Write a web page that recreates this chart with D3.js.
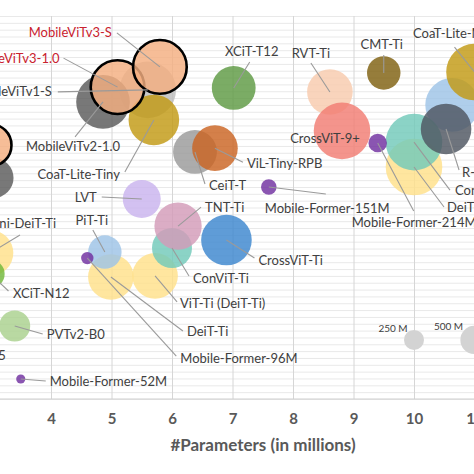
<!DOCTYPE html>
<html>
<head>
<meta charset="utf-8">
<script src="https://cdn.jsdelivr.net/npm/d3@7"></script>
<style>
  body { margin: 0; background: #fff; }
  svg { display: block; font-family: Lato, "Noto Sans", sans-serif; }
</style>
</head>
<body>
<div id="chart"></div>
<script>
// data (params in millions, top-1 on a hidden y axis, FLOPs in M)
var models = ["MobileViTv1-S", "MobileViTv2-0.5", "MobileViTv2-0.75", "MobileViTv2-1.0",
  "Mini-DeiT-Ti", "DeiT-Ti", "ViT-Ti (DeiT-Ti)", "DeiT-Ti+", "PiT-Ti", "PiT-XS",
  "ConViT-Ti", "ConViT-Ti+", "TNT-Ti", "LVT", "CrossViT-Ti", "CeiT-T", "ViL-Tiny-RPB",
  "XCiT-N12", "XCiT-T12", "RVT-Ti", "CrossViT-9+", "CMT-Ti", "PVTv2-B0", "R-Lite",
  "CoaT-Lite-Tiny", "CoaT-Lite-Mini", "Mobile-Former-52M", "Mobile-Former-96M",
  "Mobile-Former-151M", "Mobile-Former-214M",
  "MobileViTv3-0.75", "MobileViTv3-1.0", "MobileViTv3-S"];
var params = [5.6, 1.4, 3.05, 4.86,
  3.0, 4.99, 5.72, 10.0, 4.89, 10.63,
  6.0, 10.0, 6.1, 5.5, 6.9, 6.38, 6.71,
  3.0, 7.02, 8.61, 8.81, 9.5, 3.4, 10.53,
  5.7, 11.0, 3.5, 4.6,
  7.6, 9.4,
  3.0, 5.1, 5.8];
var top1 = [77.3, 67.6, 74.08, 76.86,
  71.34, 70.46, 70.5, 74.48, 71.37, 76.75,
  71.52, 75.39, 72.32, 73.31, 71.81, 75.03, 75.17,
  70.57, 77.37, 77.22, 75.8, 77.92, 68.67, 75.87,
  76.2, 77.95, 66.73, 71.15,
  73.75, 75.36,
  75.28, 77.4, 78.14];
var flops = [2000, 500, 1000, 1800,
  1300, 1300, 1300, 2000, 700, 1800,
  1000, 2000, 1400, 900, 1600, 1200, 1300,
  500, 1200, 1300, 2000, 700, 600, 1600,
  1600, 2000, 52, 96,
  151, 214,
  1100, 1800, 1800];

var xTicks = [4, 5, 6, 7, 8, 9, 10, 11];
var legendSizes = [250, 500];
var legendLabels = ["250 M", "500 M"];

var colors = {
  "Mini-DeiT-Ti": "#FFE08A", "DeiT-Ti": "#FFE08A", "ViT-Ti (DeiT-Ti)": "#FFE08A", "DeiT-Ti+": "#FFE08A",
  "PiT-Ti": "#9DC3E6", "PiT-XS": "#9DC3E6", "ConViT-Ti": "#72C9B9", "ConViT-Ti+": "#72C9B9",
  "TNT-Ti": "#D39BB8", "LVT": "#C9B3EE", "CrossViT-Ti": "#3C86CE", "CeiT-T": "#9A9A9A",
  "ViL-Tiny-RPB": "#CB6422", "XCiT-N12": "#72B83A", "XCiT-T12": "#5E9A43", "RVT-Ti": "#F8CBAD",
  "CrossViT-9+": "#F17C73", "CMT-Ti": "#7F6010", "PVTv2-B0": "#A9D18E", "R-Lite": "#4E5660",
  "CoaT-Lite-Tiny": "#C29A14", "CoaT-Lite-Mini": "#C29A14", "Mobile-Former-52M": "#7030A0",
  "Mobile-Former-96M": "#7030A0", "Mobile-Former-151M": "#7030A0", "Mobile-Former-214M": "#7030A0",
  "MobileViTv2-0.5": "#5A5A5A", "MobileViTv2-0.75": "#5A5A5A", "MobileViTv1-S": "#BDBDBD",
  "MobileViTv2-1.0": "#5A5A5A", "MobileViTv3-0.75": "#F4AE80", "MobileViTv3-1.0": "#F4AE80",
  "MobileViTv3-S": "#F4AE80"
};

// label placement: [dx, dy, anchor, leader dx, leader dy] relative to the bubble centre
var labelPos = {
  "MobileViTv3-S": [-48, -34, "end", -43, -34],
  "MobileViTv3-1.0": [-58, -29, "end", -54, -29],
  "MobileViTv1-S": [-96, 2, "end", -90, 2],
  "MobileViTv2-1.0": [-30, 45, "middle", -28, 35],
  "CoaT-Lite-Tiny": [-34, 54, "end", -29, 52],
  "Mini-DeiT-Ti": [65.5, -29, "end", 29.5, -18],
  "XCiT-N12": [22.5, 19, "start", 18, 17],
  "PVTv2-B0": [32, 8, "start", 28, 8],
  "MobileViTv2-0.5": [112, 0, "end", null, null],
  "Mobile-Former-52M": [29, 2, "start", 25, 2],
  "PiT-Ti": [-13, -32, "middle", -12, -22],
  "Mobile-Former-96M": [93, 100, "start", 89, 98],
  "DeiT-Ti": [76, 54, "start", 72, 54],
  "ViT-Ti (DeiT-Ti)": [25, 28, "start", 22, 26],
  "LVT": [-45, -2, "end", -40, -2],
  "TNT-Ti": [27, -19, "start", 23, -19],
  "ConViT-Ti": [21, 30, "start", 17, 28],
  "CrossViT-Ti": [32, 20, "start", 28, 18],
  "CeiT-T": [14, 33, "start", 10, 32],
  "ViL-Tiny-RPB": [32, 15, "start", 28, 14],
  "XCiT-T12": [18, -36, "middle", 16, -26],
  "RVT-Ti": [-19, -39, "middle", -19, -29],
  "CrossViT-9+": [-17, 8, "middle", null, null],
  "Mobile-Former-151M": [-4, 21, "start", 57, 7],
  "CMT-Ti": [-2, -28, "middle", 0, -18],
  "Mobile-Former-214M": [-26, 80, "start", 36, 68],
  "ConViT-Ti+": [41, 48, "start", 36, 48],
  "DeiT-Ti+": [33, 40, "start", 30, 40],
  "R-Lite": [16, 43, "start", 13, 41],
  "PiT-XS": [40, -10, "start", null, null],
  "CoaT-Lite-Mini": [-61.5, -39, "start", -20, -25],
  "MobileViTv2-0.75": [-30, 0, "end", null, null],
  "MobileViTv3-0.75": [-30, 0, "end", null, null]
};

var width = 474, height = 474;
var svg = d3.select("#chart").append("svg")
  .attr("width", width)
  .attr("height", height);

var x = d3.scaleLinear().domain([4, 10]).range([51, 414]);
var y = d3.scaleLinear().domain([66, 80]).range([399, 16]);
var r = d3.scaleSqrt().domain([0, 250]).range([0, 10]);

// horizontal gridlines
svg.append("g")
  .call(d3.axisLeft(y).tickValues(d3.range(66, 80.01, 0.25)).tickSize(-width).tickFormat(""))
  .call(function(g) {
    g.select(".domain").remove();
    g.selectAll(".tick line").attr("stroke", "#E9E9E9");
  });

// vertical gridlines
svg.append("g")
  .attr("transform", "translate(0,399)")
  .call(d3.axisBottom(x).tickValues(xTicks).tickSize(-383).tickFormat(""))
  .call(function(g) {
    g.select(".domain").remove();
    g.selectAll(".tick line").attr("stroke", "#D6D6D6");
  });

// x axis
svg.append("line")
  .attr("x1", 0).attr("x2", width)
  .attr("y1", 399).attr("y2", 399)
  .attr("stroke", "#CFCFCF");

svg.append("g")
  .attr("transform", "translate(0,399)")
  .call(d3.axisBottom(x).tickValues(xTicks).tickSize(0).tickPadding(14).tickFormat(d3.format("d")))
  .call(function(g) {
    g.select(".domain").remove();
    g.selectAll("text")
      .attr("fill", "#595959")
      .style("font-size", "15px")
      .style("font-weight", "bold")
      .style("font-family", "Lato, sans-serif");
  });

svg.append("text")
  .attr("x", 263)
  .attr("y", 451)
  .attr("text-anchor", "middle")
  .attr("fill", "#595959")
  .style("font-size", "17px")
  .style("font-weight", "bold")
  .text("#Parameters (in millions)");

var data = models.map(function(m, i) {
  return { name: m, p: params[i], acc: top1[i], f: flops[i] };
});

// size legend bubbles
var legend = svg.append("g");
legendSizes.forEach(function(s, i) {
  legend.append("circle")
    .attr("cx", x(10 + i))
    .attr("cy", y(68.16))
    .attr("r", r(s))
    .attr("fill", "#D3D3D3");
  legend.append("text")
    .attr("x", x(10 + i) + (i === 0 ? -21 : -26))
    .attr("y", y(68.16) + (i === 0 ? -11 : -13))
    .attr("dy", "0.35em")
    .attr("text-anchor", "middle")
    .attr("fill", "#404040")
    .style("font-size", "10px")
    .text(legendLabels[i]);
});

// bubbles
svg.append("g")
  .selectAll("circle")
  .data(data)
  .enter()
  .append("circle")
    .attr("cx", function(d) { return x(d.p); })
    .attr("cy", function(d) { return y(d.acc); })
    .attr("r", function(d) { return r(d.f); })
    .attr("fill", function(d) { return colors[d.name]; })
    .attr("fill-opacity", 0.82)
    .attr("stroke", function(d) { return d.name.indexOf("MobileViTv3") === 0 ? "#000" : "none"; })
    .attr("stroke-width", 2.6);

// leader lines
svg.append("g")
  .selectAll("line")
  .data(data.filter(function(d) { return labelPos[d.name][3] !== null; }))
  .enter()
  .append("line")
    .attr("x1", function(d) { return x(d.p); })
    .attr("y1", function(d) { return y(d.acc); })
    .attr("x2", function(d) { return x(d.p) + labelPos[d.name][3]; })
    .attr("y2", function(d) { return y(d.acc) + labelPos[d.name][4]; })
    .attr("stroke", "#9A9A9A")
    .attr("stroke-width", 1.1);

// labels
svg.append("g")
  .selectAll("text")
  .data(data)
  .enter()
  .append("text")
    .attr("x", function(d) { return x(d.p) + labelPos[d.name][0]; })
    .attr("y", function(d) { return y(d.acc) + labelPos[d.name][1]; })
    .attr("dy", "0.35em")
    .attr("text-anchor", function(d) { return labelPos[d.name][2]; })
    .attr("fill", function(d) { return d.name.indexOf("MobileViTv3") === 0 ? "#C9212E" : "#404040"; })
    .style("font-size", "13px")
    .text(function(d) { return d.name; });
</script>
</body>
</html>
